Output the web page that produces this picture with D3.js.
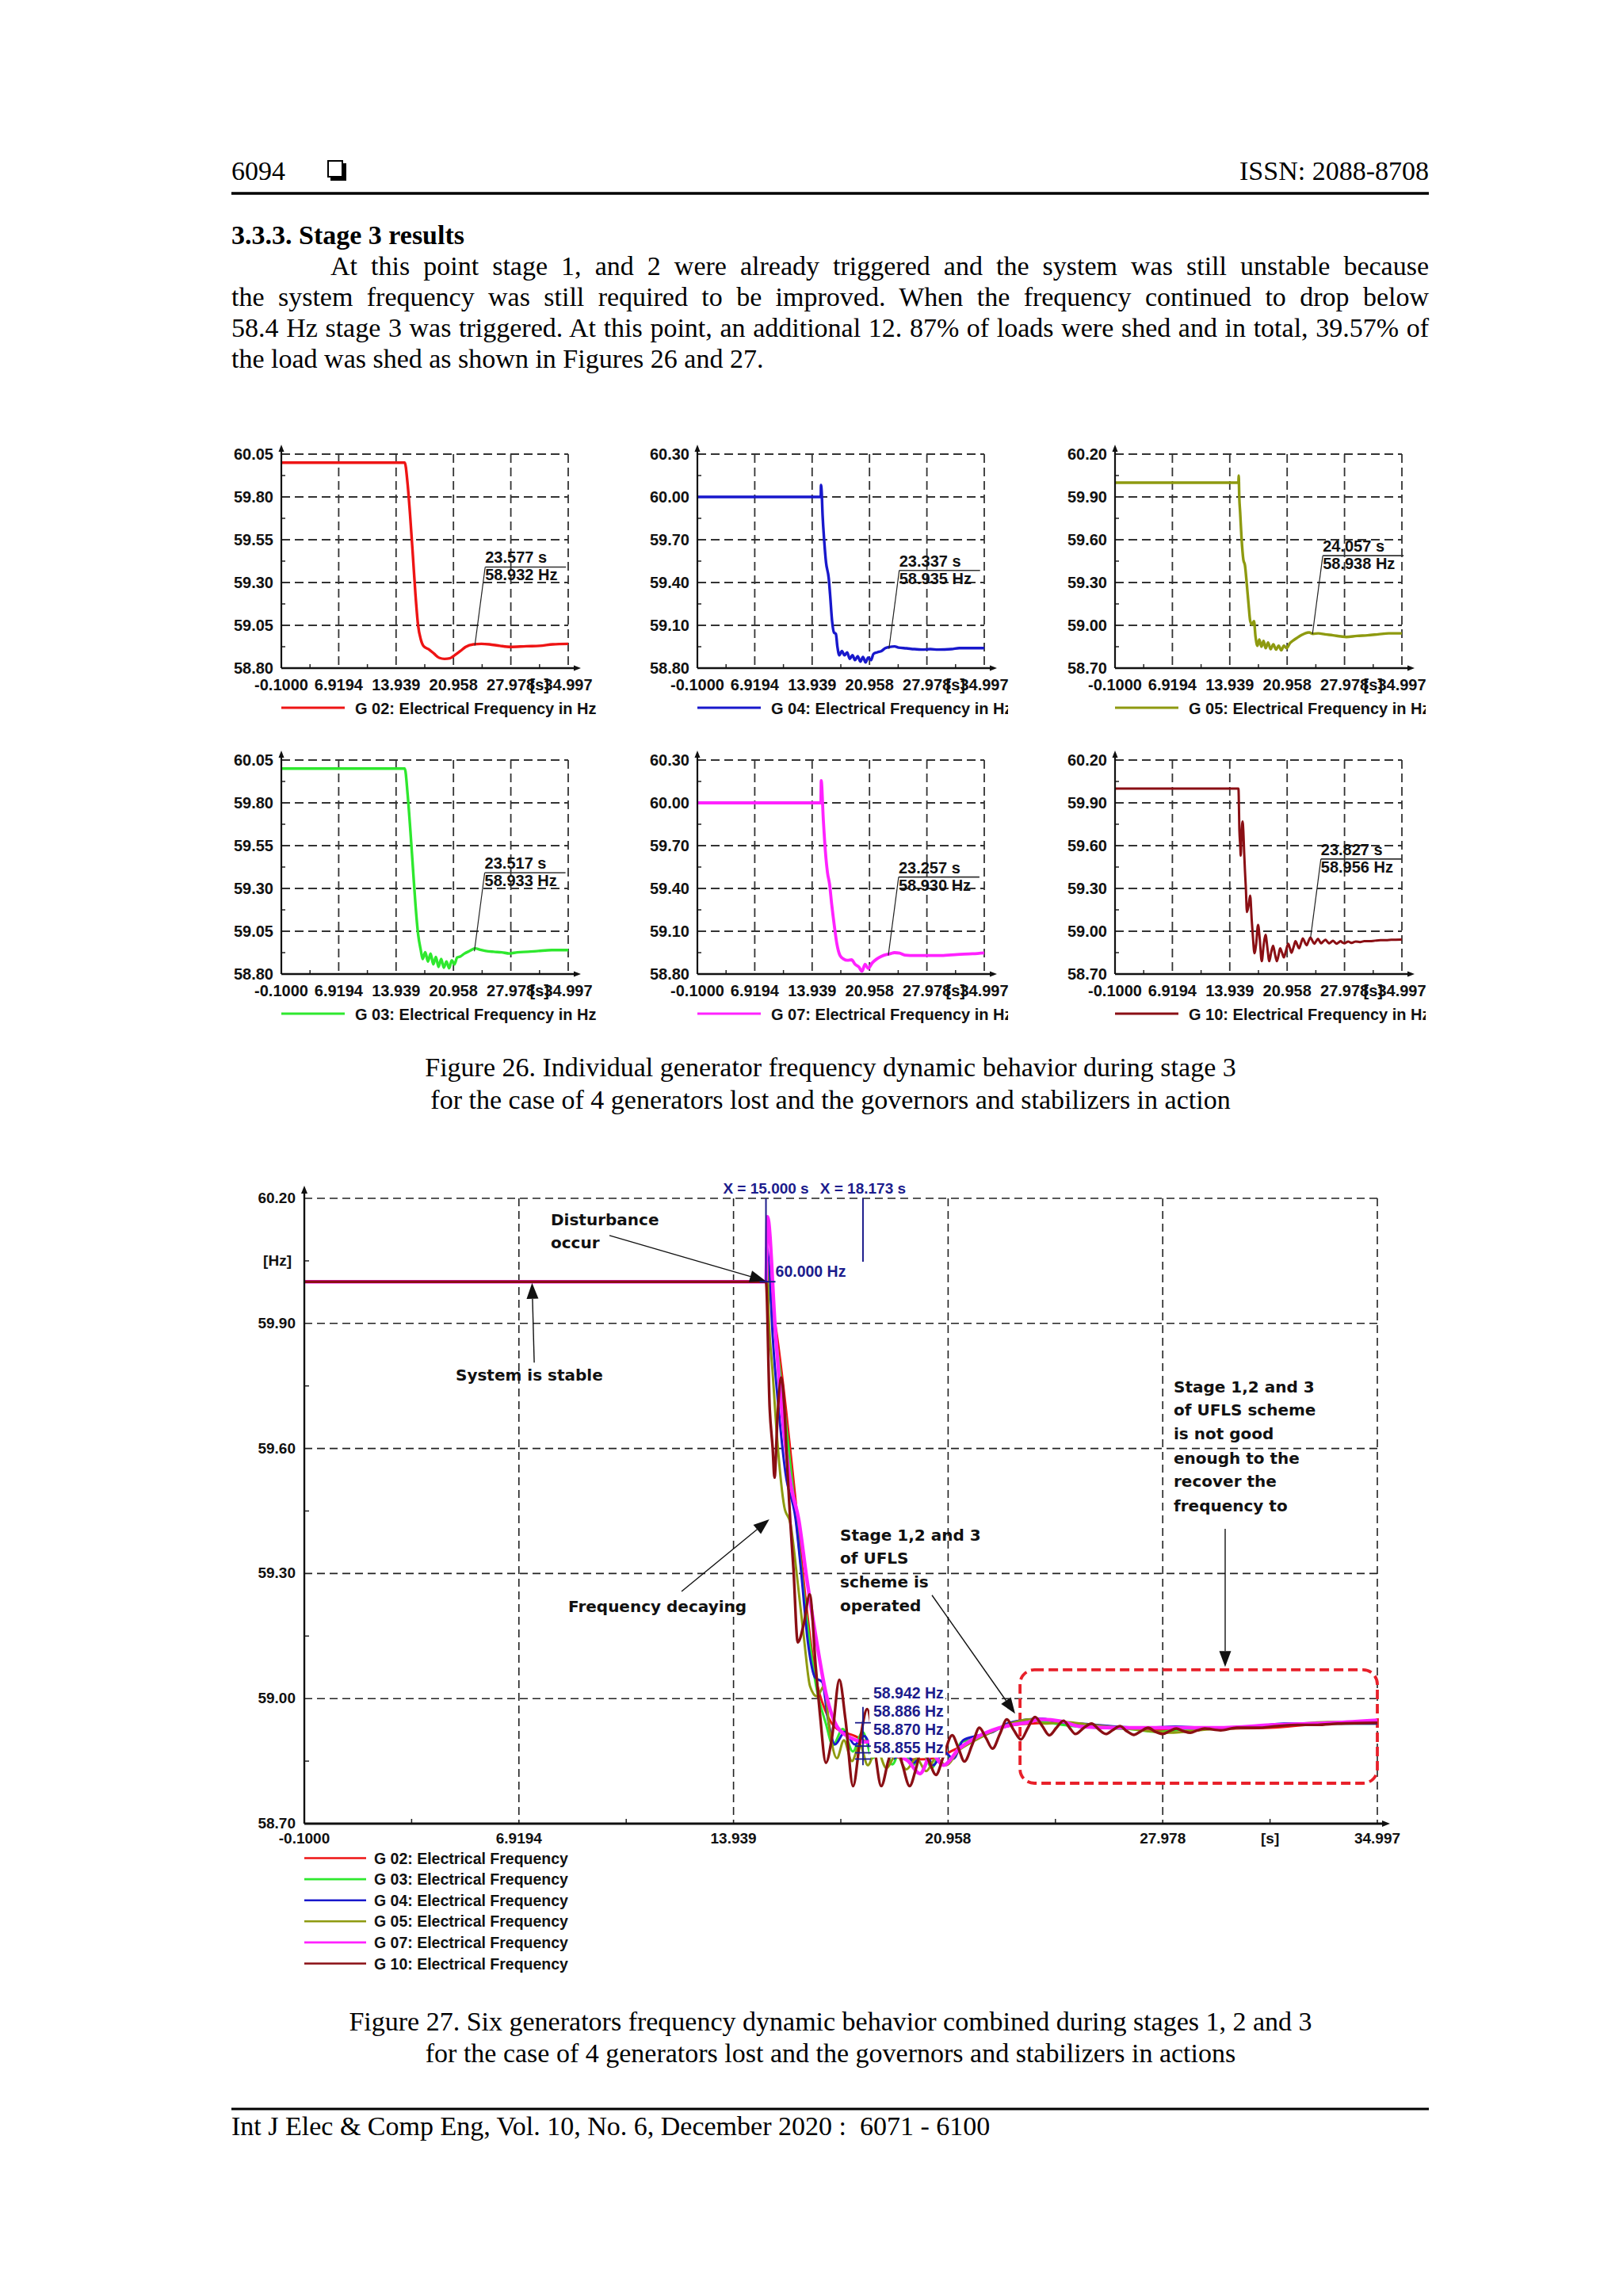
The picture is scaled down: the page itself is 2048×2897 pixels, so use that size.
<!DOCTYPE html>
<html><head><meta charset="utf-8">
<script src="https://cdn.jsdelivr.net/npm/d3@7"></script>
<style>
html,body{margin:0;padding:0;background:#fff;}
svg{display:block;}
.serif{font-family:"Liberation Serif","Times New Roman",serif;fill:#000;}
.sans{font-family:"Liberation Sans",Arial,sans-serif;font-weight:bold;fill:#111;}
.ann{font-family:"DejaVu Sans",Verdana,sans-serif;font-weight:bold;fill:#111;}
</style></head><body>
<svg id="page" width="2048" height="2897"></svg>
<script>
// ---------------- DATA ----------------
const timeTicks = [-0.1, 6.9194, 13.939, 20.958, 27.978, 34.997];
const timeTickLabels = ["-0.1000", "6.9194", "13.939", "20.958", "27.978", "34.997"];
const timeUnit = "[s]";
const freqUnit = "[Hz]";

const generators = ["G 02", "G 03", "G 04", "G 05", "G 07", "G 10"];
const genColors = ["#ee1414", "#2ee82e", "#1818cc", "#8e9a10", "#ff22ff", "#8a0f14"];

const yTicksG02 = [58.80, 59.05, 59.30, 59.55, 59.80, 60.05];
const yTicksG03 = [58.80, 59.05, 59.30, 59.55, 59.80, 60.05];
const yTicksG04 = [58.80, 59.10, 59.40, 59.70, 60.00, 60.30];
const yTicksG05 = [58.70, 59.00, 59.30, 59.60, 59.90, 60.20];
const yTicksG07 = [58.80, 59.10, 59.40, 59.70, 60.00, 60.30];
const yTicksG10 = [58.70, 59.00, 59.30, 59.60, 59.90, 60.20];

const markerTimes = [23.577, 23.517, 23.337, 24.057, 23.257, 23.827];
const markerValues = [58.932, 58.933, 58.935, 58.938, 58.930, 58.956];

const g02 = [[-0.1,60.0],[15.0,60.0],[15.34,59.88],[15.66,59.69],[15.99,59.46],[16.31,59.23],[16.63,59.05],[16.95,58.97],[17.28,58.93],[17.92,58.91],[18.57,58.885],[19.22,58.86],[19.86,58.854],[20.51,58.857],[21.15,58.877],[21.80,58.90],[22.45,58.924],[23.41,58.939],[24.38,58.942],[25.35,58.939],[26.64,58.93],[27.94,58.924],[29.87,58.928],[31.49,58.93],[33.10,58.939],[34.997,58.942]];
const g03 = [[-0.1,60.0],[15.0,60.0],[15.35,59.85],[15.67,59.65],[16.0,59.42],[16.32,59.20],[16.64,59.03],[16.96,58.94],[17.19,58.888],[17.51,58.927],[17.84,58.873],[18.16,58.92],[18.49,58.857],[18.81,58.90],[19.13,58.842],[19.46,58.888],[19.78,58.837],[20.1,58.873],[20.43,58.834],[20.75,58.88],[21.08,58.857],[21.40,58.896],[21.82,58.903],[22.31,58.92],[22.95,58.935],[23.6,58.95],[24.25,58.942],[24.9,58.935],[25.87,58.93],[26.84,58.927],[27.81,58.92],[28.78,58.927],[30.08,58.93],[31.37,58.935],[32.99,58.94],[34.997,58.94]];
const g04 = [[-0.1,60.0],[15.0,60.0],[15.02,60.084],[15.1,60.04],[15.22,59.87],[15.42,59.69],[15.64,59.54],[15.97,59.43],[16.13,59.32],[16.38,59.13],[16.61,59.05],[16.84,59.04],[17.03,58.95],[17.26,58.89],[17.58,58.92],[17.9,58.89],[18.22,58.91],[18.55,58.865],[18.87,58.89],[19.19,58.856],[19.51,58.884],[19.84,58.846],[20.16,58.878],[20.48,58.84],[20.80,58.874],[21.13,58.856],[21.45,58.90],[21.93,58.911],[22.42,58.92],[22.9,58.94],[23.39,58.948],[24.03,58.952],[24.51,58.944],[25.48,58.939],[26.45,58.933],[27.42,58.93],[28.39,58.933],[29.35,58.93],[30.97,58.933],[31.94,58.94],[33.22,58.94],[34.997,58.94]];
const g05 = [[-0.1,60.0],[15.0,60.0],[15.03,60.05],[15.1,59.90],[15.21,59.79],[15.37,59.62],[15.6,59.46],[15.8,59.42],[16.02,59.29],[16.25,59.14],[16.44,59.03],[16.67,59.005],[16.9,59.03],[17.09,58.92],[17.32,58.857],[17.55,58.90],[17.81,58.85],[18.07,58.89],[18.33,58.84],[18.62,58.88],[18.94,58.833],[19.27,58.867],[19.59,58.83],[19.92,58.857],[20.24,58.826],[20.56,58.857],[20.89,58.84],[21.31,58.876],[21.7,58.894],[22.19,58.913],[22.67,58.93],[23.16,58.944],[23.65,58.95],[24.13,58.94],[24.78,58.944],[25.59,58.937],[26.57,58.93],[27.54,58.922],[28.19,58.918],[29.49,58.926],[30.78,58.93],[32.08,58.937],[33.38,58.944],[34.997,58.944]];
const g07 = [[-0.1,60.0],[15.0,60.0],[15.05,60.156],[15.31,59.88],[15.56,59.66],[15.82,59.51],[16.07,59.43],[16.33,59.29],[16.65,59.14],[16.97,59.01],[17.35,58.93],[17.8,58.905],[18.25,58.896],[18.76,58.90],[19.2,58.868],[19.65,58.85],[20.04,58.82],[20.42,58.868],[20.8,58.84],[21.32,58.88],[21.83,58.905],[22.4,58.924],[23.04,58.937],[23.49,58.942],[24.0,58.95],[24.64,58.946],[25.28,58.933],[26.56,58.93],[27.84,58.93],[29.75,58.93],[31.67,58.937],[33.59,58.942],[34.997,58.948]];
const g10 = [[-0.1,60.0],[15.0,60.0],[15.12,59.70],[15.22,59.60],[15.28,59.53],[15.38,59.68],[15.5,59.77],[15.6,59.70],[15.7,59.55],[15.8,59.42],[15.9,59.31],[16.04,59.135],[16.24,59.18],[16.43,59.25],[16.63,59.075],[16.77,58.96],[16.96,58.846],[17.16,58.907],[17.4,59.045],[17.6,58.95],[17.85,58.79],[18.09,58.906],[18.31,58.975],[18.55,58.88],[18.77,58.79],[19.0,58.85],[19.24,58.899],[19.47,58.84],[19.7,58.79],[19.9,58.83],[20.1,58.88],[20.33,58.85],[20.56,58.817],[20.8,58.86],[21.09,58.912],[21.3,58.88],[21.49,58.849],[21.75,58.89],[21.98,58.93],[22.2,58.905],[22.41,58.88],[22.65,58.915],[22.88,58.95],[23.1,58.925],[23.34,58.902],[23.57,58.93],[23.8,58.956],[24.03,58.935],[24.27,58.912],[24.5,58.93],[24.73,58.947],[24.93,58.93],[25.12,58.915],[25.4,58.93],[25.65,58.94],[25.9,58.925],[26.12,58.915],[26.35,58.925],[26.58,58.934],[26.8,58.922],[27.04,58.913],[27.27,58.922],[27.5,58.93],[27.75,58.92],[27.98,58.915],[28.2,58.922],[28.42,58.928],[28.65,58.922],[28.88,58.918],[29.12,58.924],[29.35,58.928],[29.87,58.924],[30.4,58.93],[31.06,58.93],[31.72,58.934],[32.38,58.937],[33.04,58.937],[33.7,58.94],[34.997,58.942]];

const bigYTicks = [58.70, 59.00, 59.30, 59.60, 59.90, 60.20];
const cursorTimes = [15.000, 18.173];
const cursorStartValue = 60.000;
const cursorValues = [58.942, 58.886, 58.870, 58.855];

// ---------------- TEXT ----------------
const headerLeft = "6094";
const headerRight = "ISSN: 2088-8708";
const heading = "3.3.3. Stage 3 results";
const paraLines = [
  "At this point stage 1, and 2 were already triggered and the system was still unstable because",
  "the system frequency was still required to be improved. When the frequency continued to drop below",
  "58.4 Hz stage 3 was triggered. At this point, an additional 12. 87% of loads were shed and in total, 39.57% of",
  "the load was shed as shown in Figures 26 and 27."
];
const caption26 = ["Figure 26. Individual generator frequency dynamic behavior during stage 3",
  "for the case of 4 generators lost and the governors and stabilizers in action"];
const caption27 = ["Figure 27. Six generators frequency dynamic behavior combined during stages 1, 2 and 3",
  "for the case of 4 generators lost and the governors and stabilizers in actions"];
const footer = "Int J Elec & Comp Eng, Vol. 10, No. 6, December 2020 :  6071 - 6100";

// ---------------- DRAW ----------------
const svg = d3.select("#page");
svg.append("rect").attr("width",2048).attr("height",2897).attr("fill","#fff");

svg.append("text").attr("class","serif").attr("x",292).attr("y",227).attr("font-size",34).text(headerLeft);
svg.append("rect").attr("x",417).attr("y",206).attr("width",20).attr("height",22).attr("fill","#000");
svg.append("rect").attr("x",414).attr("y",203).attr("width",18).attr("height",20).attr("fill","#fff").attr("stroke","#000").attr("stroke-width",2);
svg.append("text").attr("class","serif").attr("x",1803).attr("y",227).attr("font-size",34).attr("text-anchor","end").text(headerRight);
svg.append("line").attr("x1",292).attr("x2",1803).attr("y1",244).attr("y2",244).attr("stroke","#000").attr("stroke-width",3.5);

svg.append("text").attr("class","serif").attr("x",292).attr("y",308).attr("font-size",34).attr("font-weight","bold").text(heading);

function justified(str, x, y, width, last) {
  const t = svg.append("text").attr("class","serif").attr("x",x).attr("y",y).attr("font-size",34).text(str);
  if (!last) {
    const len = t.node().getComputedTextLength();
    const n = (str.match(/ /g) || []).length;
    t.style("word-spacing", ((width - len) / n) + "px");
  }
}
const paraBase = [347, 386, 425, 464];
paraLines.forEach((s, i) => {
  const x = i === 0 ? 417 : 292;
  justified(s, x, paraBase[i], 1803 - x, i === paraLines.length - 1);
});

function arrow(g, x1, y1, x2, y2, hl, hw, sw) {
  const a = Math.atan2(y2 - y1, x2 - x1);
  const bx0 = x2 - hl * Math.cos(a), by0 = y2 - hl * Math.sin(a);
  g.append("line").attr("x1",x1).attr("y1",y1).attr("x2",bx0).attr("y2",by0).attr("stroke","#111").attr("stroke-width",sw);
  const px = -Math.sin(a) * hw / 2, py = Math.cos(a) * hw / 2;
  g.append("path").attr("d",`M${x2},${y2}L${bx0+px},${by0+py}L${bx0-px},${by0-py}Z`).attr("fill","#111");
}

const smooth = d3.curveMonotoneX;

// ------------- small charts -------------
const panelCols = [355, 880, 1407];
const panelRows = [573, 959];
const panelW = 362, panelH = 270;
const panels = [
  {gi:0, col:0, row:0, ticks:yTicksG02, data:g02, lw:3.4},
  {gi:2, col:1, row:0, ticks:yTicksG04, data:g04, lw:3.4},
  {gi:3, col:2, row:0, ticks:yTicksG05, data:g05, lw:3.4},
  {gi:1, col:0, row:1, ticks:yTicksG03, data:g03, lw:3.4},
  {gi:4, col:1, row:1, ticks:yTicksG07, data:g07, lw:3.8},
  {gi:5, col:2, row:1, ticks:yTicksG10, data:g10, lw:3.0}
];

panels.forEach((p, pi) => {
  const x0 = panelCols[p.col], y0 = panelRows[p.row];
  const g = svg.append("g");
  const x = d3.scaleLinear().domain([timeTicks[0], timeTicks[timeTicks.length-1]]).range([x0, x0 + panelW]);
  const y = d3.scaleLinear().domain([p.ticks[0], p.ticks[p.ticks.length-1]]).range([y0 + panelH, y0]);
  const grid = g.append("g").attr("stroke","#333").attr("stroke-width",1.8).attr("stroke-dasharray","11,6");
  p.ticks.slice(1).forEach(v => grid.append("line").attr("x1",x0).attr("x2",x0+panelW).attr("y1",y(v)).attr("y2",y(v)));
  timeTicks.slice(1).forEach(v => grid.append("line").attr("x1",x(v)).attr("x2",x(v)).attr("y1",y0).attr("y2",y0+panelH));
  for (let i = 0; i < p.ticks.length - 1; i++) {
    const m = y((p.ticks[i] + p.ticks[i+1]) / 2);
    g.append("line").attr("x1",x0).attr("x2",x0+5).attr("y1",m).attr("y2",m).attr("stroke","#222").attr("stroke-width",1.5);
  }
  for (let i = 0; i < timeTicks.length - 1; i++) {
    const m = x((timeTicks[i] + timeTicks[i+1]) / 2);
    g.append("line").attr("x1",m).attr("x2",m).attr("y1",y0+panelH).attr("y2",y0+panelH-5).attr("stroke","#222").attr("stroke-width",1.5);
  }
  const line = d3.line().curve(smooth).x(d => x(d[0])).y(d => y(d[1]));
  g.append("path").attr("d", line(p.data)).attr("fill","none").attr("stroke",genColors[p.gi]).attr("stroke-width",p.lw).attr("stroke-linejoin","round");
  g.append("line").attr("x1",x0).attr("x2",x0).attr("y1",y0+panelH).attr("y2",y0-6).attr("stroke","#111").attr("stroke-width",2.2);
  g.append("path").attr("d",`M${x0},${y0-12}L${x0-3.5},${y0-3}L${x0+3.5},${y0-3}Z`).attr("fill","#111");
  g.append("line").attr("x1",x0).attr("x2",x0+panelW+10).attr("y1",y0+panelH).attr("y2",y0+panelH).attr("stroke","#111").attr("stroke-width",2.6);
  g.append("path").attr("d",`M${x0+panelW+16},${y0+panelH}L${x0+panelW+7},${y0+panelH-3.5}L${x0+panelW+7},${y0+panelH+3.5}Z`).attr("fill","#111");
  p.ticks.forEach(v => g.append("text").attr("class","sans").attr("font-size",20).attr("text-anchor","end")
    .attr("x",x0-10).attr("y",y(v)+7).text(v.toFixed(2)));
  timeTicks.forEach((v, i) => g.append("text").attr("class","sans").attr("font-size",20).attr("text-anchor","middle")
    .attr("x",x(v)).attr("y",y0+panelH+28).text(timeTickLabels[i]));
  g.append("text").attr("class","sans").attr("font-size",20).attr("text-anchor","middle")
    .attr("x",x((timeTicks[4]+timeTicks[5])/2)).attr("y",y0+panelH+28).text(timeUnit);
  const px = x(markerTimes[p.gi]), py = y(markerValues[p.gi]);
  const lx = px + 13, ly = py - 99;
  g.append("line").attr("x1",lx).attr("y1",ly).attr("x2",px).attr("y2",py).attr("stroke","#222").attr("stroke-width",1.2);
  g.append("line").attr("x1",lx).attr("y1",ly).attr("x2",lx+102).attr("y2",ly).attr("stroke","#333").attr("stroke-width",1.6);
  g.append("text").attr("class","sans").attr("font-size",20).attr("x",lx).attr("y",ly-5).text(markerTimes[p.gi].toFixed(3) + " s");
  g.append("text").attr("class","sans").attr("font-size",20).attr("x",lx).attr("y",ly+17).text(markerValues[p.gi].toFixed(3) + " Hz");
  const clipId = "clip" + pi;
  svg.append("clipPath").attr("id",clipId).append("rect").attr("x",x0-20).attr("y",y0+panelH+30)
    .attr("width", p.col === 0 ? 440 : 412).attr("height",40);
  const lg = g.append("g").attr("clip-path",`url(#${clipId})`);
  lg.append("line").attr("x1",x0).attr("x2",x0+80).attr("y1",y0+panelH+50).attr("y2",y0+panelH+50).attr("stroke",genColors[p.gi]).attr("stroke-width",3);
  lg.append("text").attr("class","sans").attr("font-size",20).attr("x",x0+93).attr("y",y0+panelH+58)
    .text(generators[p.gi] + ": Electrical Frequency in Hz");
});

caption26.forEach((s, i) => svg.append("text").attr("class","serif").attr("font-size",34).attr("text-anchor","middle")
  .attr("x",1048).attr("y",[1358,1399][i]).text(s));

// ------------- big chart -------------
const big = svg.append("g");
const bx = d3.scaleLinear().domain([timeTicks[0], timeTicks[timeTicks.length-1]]).range([384, 1738]);
const by = d3.scaleLinear().domain([bigYTicks[0], bigYTicks[bigYTicks.length-1]]).range([2301, 1512]);
const bgrid = big.append("g").attr("stroke","#222").attr("stroke-width",1.6).attr("stroke-dasharray","10,6");
bigYTicks.slice(1).forEach(v => bgrid.append("line").attr("x1",bx.range()[0]).attr("x2",bx.range()[1]).attr("y1",by(v)).attr("y2",by(v)));
timeTicks.slice(1).forEach(v => bgrid.append("line").attr("x1",bx(v)).attr("x2",bx(v)).attr("y1",by.range()[1]).attr("y2",by.range()[0]));
for (let i = 0; i < bigYTicks.length - 1; i++) {
  const m = by((bigYTicks[i] + bigYTicks[i+1]) / 2);
  big.append("line").attr("x1",bx.range()[0]).attr("x2",bx.range()[0]+6).attr("y1",m).attr("y2",m).attr("stroke","#222").attr("stroke-width",1.5);
}
for (let i = 0; i < timeTicks.length - 1; i++) {
  const m = bx((timeTicks[i] + timeTicks[i+1]) / 2);
  big.append("line").attr("x1",m).attr("x2",m).attr("y1",by.range()[0]).attr("y2",by.range()[0]-6).attr("stroke","#222").attr("stroke-width",1.5);
}

const annLeft = [["Disturbance", 695, 1546], ["occur", 695, 1575], ["System is stable", 575, 1742], ["Frequency decaying", 717, 2034],
  ["Stage 1,2 and 3", 1060, 1944], ["of UFLS", 1060, 1973], ["scheme is", 1060, 2003], ["operated", 1060, 2033],
  ["Stage 1,2 and 3", 1481, 1757], ["of UFLS scheme", 1481, 1786], ["is not good", 1481, 1816], ["enough to the", 1481, 1847],
  ["recover the", 1481, 1876], ["frequency to", 1481, 1907]];
annLeft.forEach(a => big.append("text").attr("class","ann").attr("font-size",20).attr("x",a[1]).attr("y",a[2]).text(a[0]));

big.append("rect").attr("x",bx(23.31)).attr("y",by(59.069)).attr("width",bx(34.997)-bx(23.31)).attr("height",by(58.797)-by(59.069))
  .attr("rx",18).attr("fill","none").attr("stroke","#e8202a").attr("stroke-width",3.8).attr("stroke-dasharray","12,6");

const bline = d3.line().curve(smooth).x(d => bx(d[0])).y(d => by(d[1]));
const bigSeries = [g02, g03, g04, g05, g07, g10];
const bigWidths = [3, 3, 3, 3, 4.5, 3.4];
bigSeries.forEach((d, i) => big.append("path").attr("d", bline(d)).attr("fill","none").attr("stroke",genColors[i])
  .attr("stroke-width",bigWidths[i]).attr("stroke-linejoin","round"));

const arrowsData = [[9.88,60.111,14.99,60.002],[7.42,59.806,7.35,59.997],[12.24,59.257,15.11,59.43],[20.43,59.248,23.15,58.964],[30.02,59.407,30.02,59.076]];
arrowsData.forEach(a => arrow(big, bx(a[0]), by(a[1]), bx(a[2]), by(a[3]), 20, 15, 1.4));

const navy = "#1c1c8c";
const c0 = bx(cursorTimes[0]), c1 = bx(cursorTimes[1]);
big.append("line").attr("x1",c0).attr("x2",c0).attr("y1",by.range()[1]).attr("y2",by(cursorStartValue)).attr("stroke",navy).attr("stroke-width",2);
big.append("line").attr("x1",c0-8).attr("x2",c0+12).attr("y1",by(cursorStartValue)).attr("y2",by(cursorStartValue)).attr("stroke",navy).attr("stroke-width",2);
big.append("line").attr("x1",c1).attr("x2",c1).attr("y1",by.range()[1]).attr("y2",by.range()[1]+80).attr("stroke",navy).attr("stroke-width",2);
cursorTimes.forEach(t => big.append("text").attr("class","sans").attr("font-size",19).attr("text-anchor","middle").style("fill",navy)
  .attr("x",bx(t)).attr("y",1506).text("X = " + t.toFixed(3) + " s"));
big.append("text").attr("class","sans").attr("font-size",19.5).style("fill",navy).attr("x",c0+12).attr("y",by(cursorStartValue)-6)
  .text(cursorStartValue.toFixed(3) + " Hz");
big.append("rect").attr("x",c1+8).attr("y",by(59.0)-16).attr("width",96).attr("height",3*22.8+22).attr("fill","#fff");
big.append("line").attr("x1",c1).attr("x2",c1).attr("y1",by(58.98)).attr("y2",by(58.84)).attr("stroke",navy).attr("stroke-width",1.8);
cursorValues.forEach((v, i) => {
  big.append("line").attr("x1",c1-10).attr("x2",c1+10).attr("y1",by(v)).attr("y2",by(v)).attr("stroke",navy).attr("stroke-width",1.8);
  big.append("text").attr("class","sans").attr("font-size",19.5).style("fill",navy).attr("x",c1+13).attr("y",by(59.0)+i*22.8)
    .text(v.toFixed(3) + " Hz");
});

big.append("line").attr("x1",384).attr("x2",384).attr("y1",by.range()[0]).attr("y2",1503).attr("stroke","#111").attr("stroke-width",2.4);
big.append("path").attr("d","M384,1496L380,1506L388,1506Z").attr("fill","#111");
big.append("line").attr("x1",384).attr("x2",1746).attr("y1",by.range()[0]).attr("y2",by.range()[0]).attr("stroke","#111").attr("stroke-width",3);
big.append("path").attr("d",`M1754,${by.range()[0]}L1744,${by.range()[0]-4}L1744,${by.range()[0]+4}Z`).attr("fill","#111");
bigYTicks.forEach(v => big.append("text").attr("class","sans").attr("font-size",19).attr("text-anchor","end")
  .attr("x",373).attr("y",by(v)+6).text(v.toFixed(2)));
big.append("text").attr("class","sans").attr("font-size",19).attr("text-anchor","end").attr("x",368).attr("y",by(60.05)+6).text(freqUnit);
timeTicks.forEach((v, i) => big.append("text").attr("class","sans").attr("font-size",19).attr("text-anchor","middle")
  .attr("x",bx(v)).attr("y",2326).text(timeTickLabels[i]));
big.append("text").attr("class","sans").attr("font-size",19).attr("text-anchor","middle")
  .attr("x",bx((timeTicks[4]+timeTicks[5])/2)).attr("y",2326).text(timeUnit);

generators.forEach((gname, i) => {
  const ly = 2344.5 + i * 26.6;
  big.append("line").attr("x1",384).attr("x2",462).attr("y1",ly).attr("y2",ly).attr("stroke",genColors[i]).attr("stroke-width",2.6);
  big.append("text").attr("class","sans").attr("font-size",19.5).attr("x",472).attr("y",ly+7).text(gname + ": Electrical Frequency");
});

caption27.forEach((s, i) => svg.append("text").attr("class","serif").attr("font-size",34).attr("text-anchor","middle")
  .attr("x",1048).attr("y",[2562,2602][i]).text(s));

svg.append("line").attr("x1",292).attr("x2",1803).attr("y1",2661).attr("y2",2661).attr("stroke","#000").attr("stroke-width",3);
svg.append("text").attr("class","serif").attr("font-size",34).attr("x",292).attr("y",2694).style("white-space","pre").text(footer);
</script></body></html>
